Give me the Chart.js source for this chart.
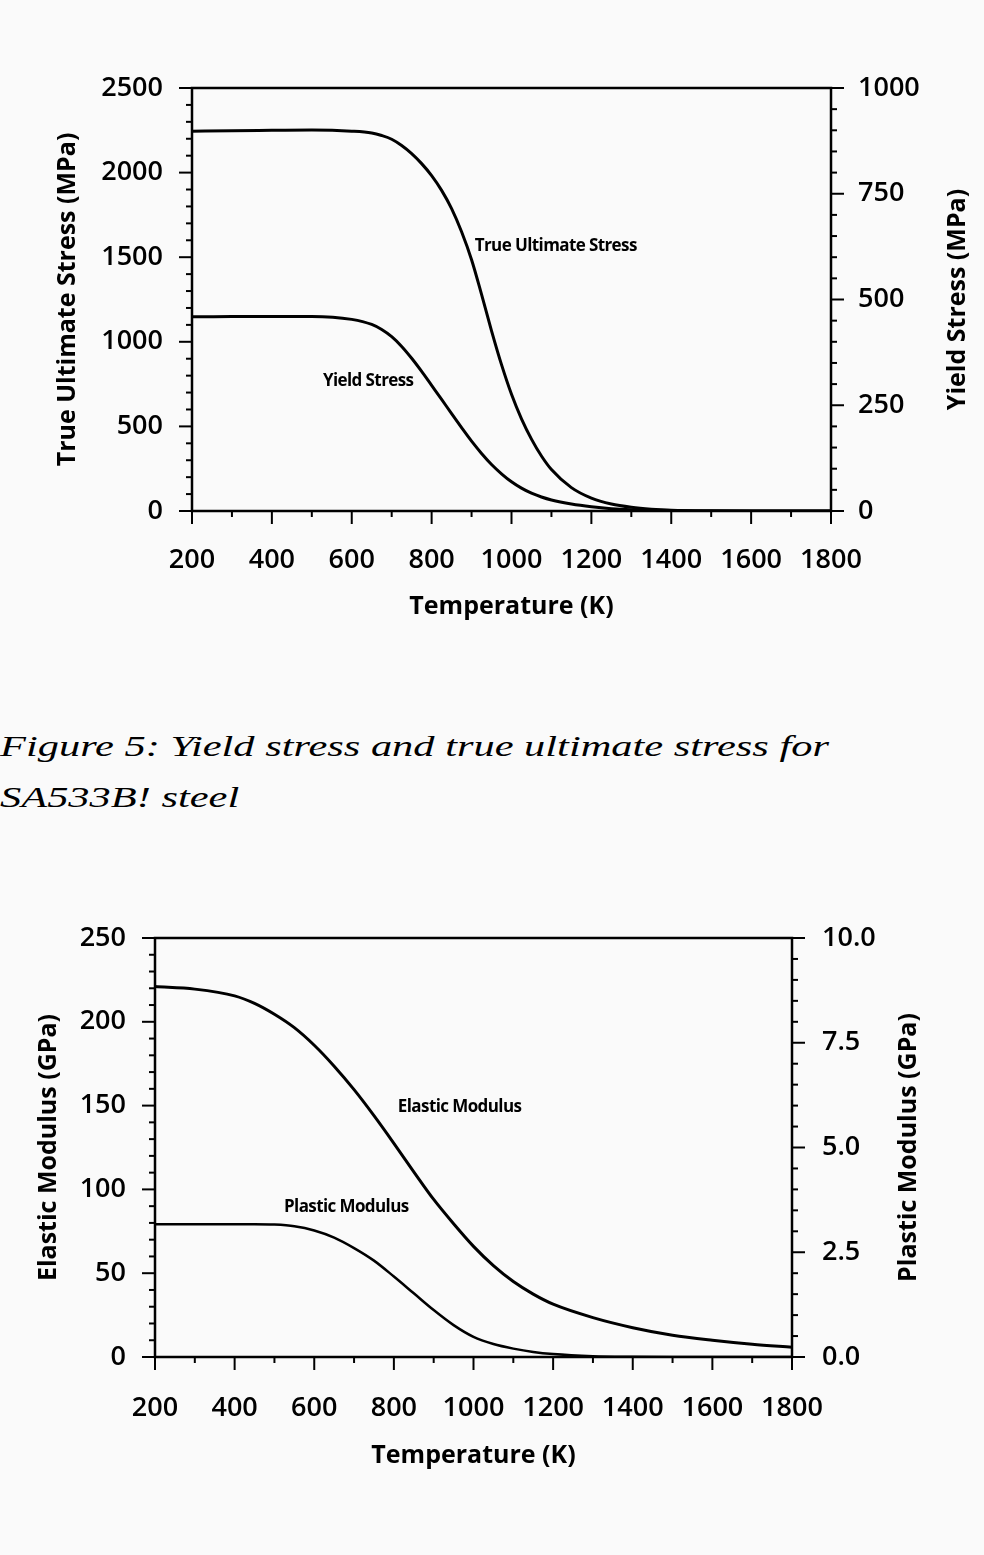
<!DOCTYPE html>
<html>
<head>
<meta charset="utf-8">
<script src="https://cdn.jsdelivr.net/npm/chart.js@4.4.1/dist/chart.umd.min.js"></script>
<style>
  body { margin: 0; background: #fafafa; width: 984px; height: 1555px; position: relative; overflow: hidden; }
  .box { position: absolute; left: 0; width: 984px; height: 620px; }
  #caption { position: absolute; left: 0; top: 720px; font-family: "Liberation Serif", "Times New Roman", Times, serif; font-style: italic;
             font-size: 30px; line-height: 51px; white-space: nowrap; transform-origin: 0 0; color: #000; }
</style>
</head>
<body>
<div class="box" style="top:40px"><canvas id="stress" width="984" height="620"></canvas></div>
<div id="caption">Figure 5: Yield stress and true ultimate stress for<br>SA533B! steel</div>
<div class="box" style="top:880px"><canvas id="modulus" width="984" height="620"></canvas></div>
<script>
// --- figure 5 : stresses (K / MPa)
const stressTemps = [200, 300, 400, 500, 600, 650, 675, 700, 725, 750, 775, 800, 825, 850, 875, 900, 925, 950, 975, 1000, 1025, 1050, 1075, 1100, 1150, 1200, 1250, 1300, 1350, 1400, 1500, 1600, 1700, 1800];
const trueUltimate = [2245, 2248, 2250, 2252, 2245, 2234, 2219, 2197, 2160, 2112, 2053, 1982, 1895, 1787, 1650, 1485, 1280, 1065, 865, 690, 545, 425, 325, 245, 138, 76, 41, 22, 11, 5, 1, 0, 0, 0];
const yieldStress = [459, 460, 460, 460, 453, 441, 429, 412, 389, 361, 330, 297, 264, 230, 197, 165, 136, 110, 88, 69, 54, 42, 33, 26, 16.5, 10, 5.5, 3, 2, 1, 0, 0, 0, 0];

// --- moduli (K / GPa)
const modTemps = [200, 300, 400, 450, 500, 550, 600, 650, 700, 750, 800, 850, 900, 950, 1000, 1050, 1100, 1150, 1200, 1300, 1400, 1500, 1600, 1700, 1800];
const elasticModulus = [221, 219.5, 215.5, 211, 204.5, 196.5, 186, 173.5, 159.5, 144, 127.5, 110.5, 94, 79.5, 66, 54.5, 45, 37.5, 31.5, 23.5, 17.5, 13, 10, 7.6, 5.8];
const plasticModulus = [3.17, 3.17, 3.17, 3.17, 3.16, 3.12, 3.02, 2.85, 2.6, 2.3, 1.92, 1.52, 1.12, 0.76, 0.48, 0.31, 0.2, 0.12, 0.07, 0.02, 0.005, 0, 0, 0, 0];

const tempTicks = [200, 400, 600, 800, 1000, 1200, 1400, 1600, 1800];

const tickFont = { family: 'Open Sans', size: 27, weight: '600' };
const titleFont = { family: 'Open Sans', size: 25, weight: 'bold' };

const pts = (xs, ys) => xs.map((x, i) => ({ x, y: ys[i] }));

// frame, minor/major tick marks, right-hand title (reads bottom-up) and curve labels
const decor = {
  id: 'decor',
  afterDraw(chart, args, o) {
    const { ctx, chartArea: a } = chart;
    ctx.save();
    ctx.strokeStyle = '#000';
    ctx.lineWidth = 2.5;
    ctx.strokeRect(a.left, a.top, a.right - a.left, a.bottom - a.top);
    ctx.lineWidth = 2;
    const marks = (scale, step, side) => {
      const n = Math.round((scale.max - scale.min) / step);
      for (let i = 0; i <= n; i++) {
        const v = scale.min + i * step;
        const major = scale.ticks.some(t => Math.abs(t.value - v) < 1e-6);
        const len = major ? 13 : 6;
        const p = scale.getPixelForValue(v);
        ctx.beginPath();
        if (side === 'bottom') { ctx.moveTo(p, a.bottom); ctx.lineTo(p, a.bottom + len); }
        else if (side === 'left') { ctx.moveTo(a.left, p); ctx.lineTo(a.left - len, p); }
        else { ctx.moveTo(a.right, p); ctx.lineTo(a.right + len, p); }
        ctx.stroke();
      }
    };
    marks(chart.scales.x, o.minor[0], 'bottom');
    marks(chart.scales.y, o.minor[1], 'left');
    marks(chart.scales.y2, o.minor[2], 'right');

    ctx.fillStyle = '#000';
    ctx.font = 'bold 25px "Open Sans"';
    ctx.textAlign = 'center';
    ctx.textBaseline = 'middle';
    ctx.translate(o.rightTitleX, (a.top + a.bottom) / 2);
    ctx.rotate(-Math.PI / 2);
    ctx.fillText(o.rightTitle, 0, 0);
    ctx.setTransform(1, 0, 0, 1, 0, 0);

    ctx.font = 'bold 17px "Open Sans"';
    ctx.letterSpacing = '-0.6px';
    ctx.textAlign = 'left';
    o.labels.forEach(l => {
      ctx.fillText(l.text, chart.scales.x.getPixelForValue(l.x), chart.scales.y.getPixelForValue(l.y));
    });
    ctx.restore();
  }
};

function makeChart(id, s) {
  return new Chart(document.getElementById(id), {
    type: 'line',
    data: {
      datasets: [
        { data: pts(s.temps, s.left), yAxisID: 'y', borderColor: '#000', borderWidth: s.widths[0], pointRadius: 0, cubicInterpolationMode: 'monotone' },
        { data: pts(s.temps, s.right), yAxisID: 'y2', borderColor: '#000', borderWidth: s.widths[1], pointRadius: 0, cubicInterpolationMode: 'monotone' }
      ]
    },
    options: {
      responsive: false,
      animation: false,
      layout: { padding: { top: s.padTop, left: 0, right: 0, bottom: 0 } },
      plugins: { legend: { display: false }, tooltip: { enabled: false }, decor: s.decor },
      scales: {
        x: {
          type: 'linear', min: 200, max: 1800,
          afterBuildTicks: sc => { sc.ticks = tempTicks.map(v => ({ value: v })); },
          afterFit: sc => { sc.height = s.xHeight; },
          grid: { drawOnChartArea: false, drawTicks: false },
          border: { display: false },
          ticks: { color: '#000', font: tickFont, padding: s.xPad, callback: v => String(v), maxRotation: 0 },
          title: { display: true, text: 'Temperature (K)', color: '#000', font: titleFont, padding: { bottom: s.xTitlePad } }
        },
        y: {
          position: 'left', min: 0, max: s.leftMax,
          afterBuildTicks: sc => { sc.ticks = s.leftTicks.map(v => ({ value: v })); },
          afterFit: sc => { sc.width = s.leftWidth; },
          grid: { drawOnChartArea: false, drawTicks: false },
          border: { display: false },
          ticks: { color: '#000', font: tickFont, padding: s.leftPad, callback: s.leftFmt },
          title: { display: true, text: s.leftTitle, color: '#000', font: titleFont, padding: { top: s.leftTitlePad } }
        },
        y2: {
          position: 'right', min: 0, max: s.rightMax,
          afterBuildTicks: sc => { sc.ticks = s.rightTicks.map(v => ({ value: v })); },
          afterFit: sc => { sc.width = s.rightWidth; },
          grid: { drawOnChartArea: false, drawTicks: false },
          border: { display: false },
          ticks: { color: '#000', font: tickFont, padding: s.rightPad, callback: s.rightFmt }
        }
      }
    },
    plugins: [decor]
  });
}

makeChart('stress', {
  temps: stressTemps, left: trueUltimate, right: yieldStress, widths: [3, 3],
  padTop: 48, xHeight: 149, xPad: 33, xTitlePad: 38,
  leftMax: 2500, leftTicks: [0, 500, 1000, 1500, 2000, 2500], leftFmt: v => String(v),
  leftWidth: 192, leftPad: 29, leftTitle: 'True Ultimate Stress (MPa)', leftTitlePad: 53,
  rightMax: 1000, rightTicks: [0, 250, 500, 750, 1000], rightFmt: v => String(v),
  rightWidth: 153, rightPad: 27,
  decor: {
    minor: [100, 100, 50], rightTitle: 'Yield Stress (MPa)', rightTitleX: 958,
    labels: [{ text: 'True Ultimate Stress', x: 908, y: 1566 }, { text: 'Yield Stress', x: 528, y: 768 }]
  }
});

makeChart('modulus', {
  temps: modTemps, left: elasticModulus, right: plasticModulus, widths: [3, 2.5],
  padTop: 58, xHeight: 143, xPad: 35, xTitlePad: 29,
  leftMax: 250, leftTicks: [0, 50, 100, 150, 200, 250], leftFmt: v => String(v),
  leftWidth: 155, leftPad: 29, leftTitle: 'Elastic Modulus (GPa)', leftTitlePad: 34,
  rightMax: 10, rightTicks: [0, 2.5, 5, 7.5, 10], rightFmt: v => v.toFixed(1),
  rightWidth: 192, rightPad: 30,
  decor: {
    minor: [100, 10, 0.5], rightTitle: 'Plastic Modulus (GPa)', rightTitleX: 909,
    labels: [{ text: 'Elastic Modulus', x: 810, y: 149 }, { text: 'Plastic Modulus', x: 524, y: 89.5 }]
  }
});

// stretch the caption to the width it has in the figure
const cap = document.getElementById('caption');
const m = document.createElement('canvas').getContext('2d');
m.font = 'italic 30px "Liberation Serif", "Times New Roman", Times, serif';
const w = m.measureText('Figure 5: Yield stress and true ultimate stress for').width;
cap.style.transform = 'scaleX(' + (829 / w) + ')';
</script>
</body>
</html>
